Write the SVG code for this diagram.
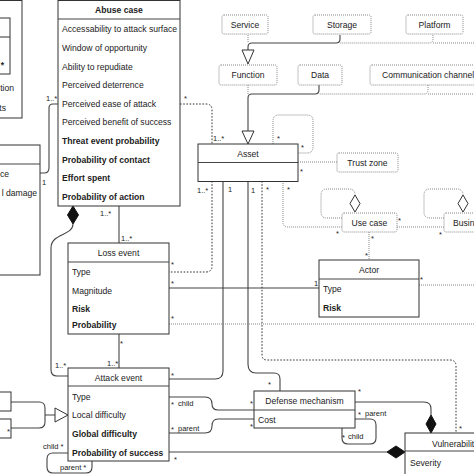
<svg xmlns="http://www.w3.org/2000/svg" width="474" height="474" viewBox="0 0 474 474">
<style>
.box{fill:#fff;stroke:#333;stroke-width:1}
.dbox{fill:#fff;stroke:#888;stroke-width:1;stroke-dasharray:1,1}
.t{font-family:"Liberation Sans",Arial,sans-serif;font-size:8.6px;fill:#222}
.c{text-anchor:middle}
.b{font-weight:bold}
.l{font-family:"Liberation Sans",Arial,sans-serif;font-size:7.5px;fill:#222}
.ln{fill:none;stroke:#444;stroke-width:1.1}
.dt{fill:none;stroke:#333;stroke-width:1;stroke-dasharray:1.6,1.6}
.gd{fill:none;stroke:#888;stroke-width:1;stroke-dasharray:1,1}
.dia{fill:#111;stroke:#111}
.hol{fill:#fff;stroke:#333;stroke-width:1}
</style>
<rect width="474" height="474" fill="#fff"/>

<g id="connectors">
  <!-- generalisation top -->
  <path class="gd" d="M248,35 V43"/>
  <path class="gd" d="M433,35 V39 Q433,43 429,43 H340 M433,43 H474"/>
  <path class="ln" d="M340,35 V39 Q340,43 336,43 H252 Q248,43 248,47 V50"/>
  <polygon class="hol" points="242,50 254,50 248,64"/>
  <!-- generalisation to asset -->
  <path class="gd" d="M248,85 V94"/>
  <path class="gd" d="M428,85 V90 Q428,94 424,94 H319 M428,94 H474"/>
  <path class="ln" d="M319,85 V90 Q319,94 315,94 H252 Q248,94 248,98 V131"/>
  <polygon class="hol" points="242,131 254,131 248,144"/>
  <!-- abuse to asset -->
  <path class="dt" d="M180,104 H206 Q212,104 212,110 V144"/>
  <!-- abuse to left box -->
  <path class="ln" d="M58,104 H53 Q49,104 49,108 V168 Q49,173 44,173 H40"/>
  <!-- abuse to loss -->
  <path class="ln" d="M119,206 V243"/>
  <!-- composition abuse to attack -->
  <path class="ln" d="M73,224 C73,236 51,233 51,248 V370 Q51,376 57,376 H68"/>
  <polygon class="dia" points="73,206 78.5,215 73,224 67.5,215"/>
  <!-- asset self loop -->
  <path class="gd" d="M273,144 V121 Q273,115 279,115 H307 Q313,115 313,121 V147 Q313,153 307,153 H298"/>
  <!-- asset trust zone -->
  <path class="gd" d="M298,162 H337"/>
  <!-- asset to loss -->
  <path class="dt" d="M212,181 V266 Q212,272 206,272 H169"/>
  <!-- asset to attack -->
  <path class="ln" d="M223,181 V371 Q223,379 215,379 H169"/>
  <!-- asset to defense -->
  <path class="ln" d="M248,181 V364 Q248,373 256,373 H274 Q280,373 280,379 V391"/>
  <!-- asset to vulnerability -->
  <path class="dt" d="M262,181 V355 Q262,360 267,360 H450 Q456,360 456,366 V433"/>
  <!-- asset to use case -->
  <path class="gd" d="M283,181 V222 Q283,227 288,227 H342"/>
  <!-- use case loop and aggregation -->
  <path class="gd" d="M342,218 H327 Q321,218 321,212 V195 Q321,189 327,189 H349 Q355,189 355,195"/>
  <polygon class="hol" points="355,195 360,203.5 355,212 350,203.5"/>
  <!-- business loop -->
  <path class="gd" d="M444,218 H430 Q424,218 424,212 V195 Q424,189 430,189 H457 Q463,189 463,195"/>
  <polygon class="hol" points="463,195 468,203.5 463,212 458,203.5"/>
  <!-- use case to business -->
  <path class="gd" d="M397,227 H444"/>
  <!-- use case to actor -->
  <path class="gd" d="M369,232 V260"/>
  <!-- actor right -->
  <path class="gd" d="M419,285 H474"/>
  <!-- loss magnitude to actor -->
  <path class="ln" d="M169,288 H319"/>
  <!-- loss probability -->
  <path class="gd" d="M169,324 H474"/>
  <!-- loss to attack -->
  <path class="ln" d="M119,334 V368"/>
  <!-- attack to defense child / parent -->
  <path class="ln" d="M169,397 H205 Q212,397 212,404 Q212,410 218,410 H254"/>
  <path class="ln" d="M169,433 H205 Q212,433 212,426 Q212,419 218,419 H254"/>
  <!-- attack to vulnerability -->
  <path class="ln" d="M169,452 H387"/>
  <polygon class="dia" points="387,452 396,446 405,452 396,458"/>
  <!-- attack self loop -->
  <path class="ln" d="M68,453 H53 Q47,453 47,459 V467 Q47,473 53,473 H86 Q92,473 92,467 V461"/>
  <!-- inheritance to attack -->
  <path class="ln" d="M11,402 H39 Q45,402 45,408 V422 Q45,428 39,428 H11 M45,415 H55"/>
  <polygon class="hol" points="55,408 55,422 68,415"/>
  <!-- defense self loop -->
  <path class="ln" d="M355,419 H370 Q376,419 376,425 V438 Q376,444 370,444 H348 Q342,444 342,438 V428"/>
  <!-- defense to vulnerability -->
  <path class="ln" d="M355,402 H424 Q431,402 431,409 V415"/>
  <polygon class="dia" points="431,415 436,424 431,433 426,424"/>
</g>

<g id="left-top">
  <rect class="box" x="-1" y="0.5" width="23" height="117.5"/>
  <rect class="box" x="-1" y="18" width="11" height="56"/>
  <line class="ln" x1="-1" y1="37" x2="10" y2="37"/>
  <text class="t b" x="4" y="68" text-anchor="end">*</text>
  <text class="t" x="14" y="91" text-anchor="end">tion</text>
  <text class="t" x="6" y="111" text-anchor="end">ts</text>
</g>

<g id="left-mid">
  <rect class="box" x="-1" y="145" width="41" height="130"/>
  <line class="ln" x1="-1" y1="164" x2="40" y2="164"/>
  <text class="t" x="9" y="177" text-anchor="end">ce</text>
  <text class="t" x="37" y="196" text-anchor="end">l damage</text>
</g>

<g id="left-bottom">
  <rect class="box" x="-1" y="392" width="12" height="19"/>
  <rect class="box" x="-1" y="419" width="12" height="19"/>
  <text class="l" x="10" y="434" text-anchor="end">*</text>
</g>

<g id="abuse-case">
  <rect class="box" x="58" y="0.5" width="122" height="205.5"/>
  <line class="ln" x1="58" y1="19" x2="180" y2="19"/>
  <text class="t c b" x="119" y="13">Abuse case</text>
  <text class="t" x="62" y="32.3">Accessability to attack surface</text>
  <text class="t" x="62" y="50.9">Window of opportunity</text>
  <text class="t" x="62" y="69.5">Ability to repudiate</text>
  <text class="t" x="62" y="88.1">Perceived deterrence</text>
  <text class="t" x="62" y="106.7">Perceived ease of attack</text>
  <text class="t" x="62" y="125.3">Perceived benefit of success</text>
  <text class="t b" x="62" y="143.9">Threat event probability</text>
  <text class="t b" x="62" y="162.5">Probability of contact</text>
  <text class="t b" x="62" y="181.1">Effort spent</text>
  <text class="t b" x="62" y="199.7">Probability of action</text>
</g>

<g id="service"><rect class="dbox" x="222" y="15" width="46" height="19" rx="2"/><text class="t c" x="245" y="28">Service</text></g>
<g id="storage"><rect class="dbox" x="313" y="15" width="58" height="19" rx="2"/><text class="t c" x="342" y="28">Storage</text></g>
<g id="platform"><rect class="dbox" x="406" y="15" width="57" height="19" rx="2"/><text class="t c" x="434.5" y="28">Platform</text></g>
<g id="function"><rect class="dbox" x="219" y="65" width="58" height="20" rx="2"/><text class="t c" x="248" y="78">Function</text></g>
<g id="data"><rect class="dbox" x="298" y="65" width="44" height="20" rx="2"/><text class="t c" x="320" y="78">Data</text></g>
<g id="communication-channel"><rect class="dbox" x="370" y="65" width="120" height="20" rx="2"/><text class="t" x="382" y="78">Communication channel</text></g>
<g id="trust-zone"><rect class="dbox" x="337" y="153" width="61" height="19" rx="2"/><text class="t c" x="367.5" y="166">Trust zone</text></g>
<g id="use-case"><rect class="dbox" x="342" y="213" width="55" height="19" rx="2"/><text class="t c" x="369.5" y="226">Use case</text></g>
<g id="business"><rect class="dbox" x="444" y="213" width="60" height="19" rx="2"/><text class="t" x="453" y="226">Business process</text></g>

<g id="asset">
  <rect class="box" x="198" y="144" width="100" height="37.5"/>
  <line class="ln" x1="198" y1="162.5" x2="298" y2="162.5"/>
  <text class="t c" x="248" y="157">Asset</text>
</g>

<g id="loss-event">
  <rect class="box" x="68" y="243" width="101" height="91"/>
  <line class="ln" x1="68" y1="262" x2="169" y2="262"/>
  <text class="t c" x="118.5" y="256">Loss event</text>
  <text class="t" x="72" y="275">Type</text>
  <text class="t" x="72" y="293.5">Magnitude</text>
  <text class="t b" x="72" y="312">Risk</text>
  <text class="t b" x="72" y="327.5">Probability</text>
</g>

<g id="actor">
  <rect class="box" x="319" y="260" width="100" height="57"/>
  <line class="ln" x1="319" y1="279" x2="419" y2="279"/>
  <text class="t c" x="369" y="273">Actor</text>
  <text class="t" x="323" y="292">Type</text>
  <text class="t b" x="323" y="311">Risk</text>
</g>

<g id="attack-event">
  <rect class="box" x="68" y="368" width="101" height="93"/>
  <line class="ln" x1="68" y1="386" x2="169" y2="386"/>
  <text class="t c" x="118.5" y="381">Attack event</text>
  <text class="t" x="72" y="400">Type</text>
  <text class="t" x="72" y="418">Local difficulty</text>
  <text class="t b" x="72" y="437">Global difficulty</text>
  <text class="t b" x="72" y="456">Probability of success</text>
</g>

<g id="defense-mechanism">
  <rect class="box" x="254" y="391" width="101" height="37"/>
  <line class="ln" x1="254" y1="410" x2="355" y2="410"/>
  <text class="t c" x="304.5" y="404">Defense mechanism</text>
  <text class="t" x="258" y="423">Cost</text>
</g>

<g id="vulnerability">
  <rect class="box" x="405" y="433" width="100" height="45"/>
  <line class="ln" x1="405" y1="451" x2="505" y2="451"/>
  <text class="t" x="432" y="447">Vulnerability</text>
  <text class="t" x="410" y="466">Severity</text>
</g>

<g id="labels">
  <text class="l" x="46" y="101">1..*</text>
  <text class="l" x="42" y="185">1</text>
  <text class="l" x="184" y="101">*</text>
  <text class="l" x="213" y="141">1..*</text>
  <text class="l" x="277" y="141">*</text>
  <text class="l" x="301" y="150">*</text>
  <text class="l" x="300" y="174">*</text>
  <text class="l" x="197" y="193">1..*</text>
  <text class="l" x="228" y="192">1</text>
  <text class="l" x="251" y="193">1</text>
  <text class="l" x="266" y="192">*</text>
  <text class="l" x="287" y="192">*</text>
  <text class="l" x="336" y="236">*</text>
  <text class="l" x="398" y="223">*</text>
  <text class="l" x="439" y="237">*</text>
  <text class="l" x="371" y="241">*</text>
  <text class="l" x="365" y="258">*</text>
  <text class="l" x="314" y="286">1</text>
  <text class="l" x="420" y="282">*</text>
  <text class="l" x="100" y="216">1..*</text>
  <text class="l" x="121" y="241">1..*</text>
  <text class="l" x="171" y="267">*</text>
  <text class="l" x="171" y="286">*</text>
  <text class="l" x="171" y="321">*</text>
  <text class="l" x="120" y="346">*</text>
  <text class="l" x="107" y="366">1..*</text>
  <text class="l" x="55" y="368">1..*</text>
  <text class="l" x="171" y="378">*</text>
  <text class="l" x="171" y="407">*</text>
  <text class="l" x="178" y="406">child</text>
  <text class="l" x="171" y="432">*</text>
  <text class="l" x="178" y="431">parent</text>
  <text class="l" x="43" y="449">child *</text>
  <text class="l" x="60" y="470">parent *</text>
  <text class="l" x="174" y="462">*</text>
  <text class="l" x="250" y="406">*</text>
  <text class="l" x="250" y="429">*</text>
  <text class="l" x="268" y="387">*</text>
  <text class="l" x="358" y="394">*</text>
  <text class="l" x="358" y="417">*</text>
  <text class="l" x="365" y="416">parent</text>
  <text class="l" x="342" y="440">*</text>
  <text class="l" x="348" y="439">child</text>
  <text class="l" x="459" y="431">*</text>
</g>
</svg>
